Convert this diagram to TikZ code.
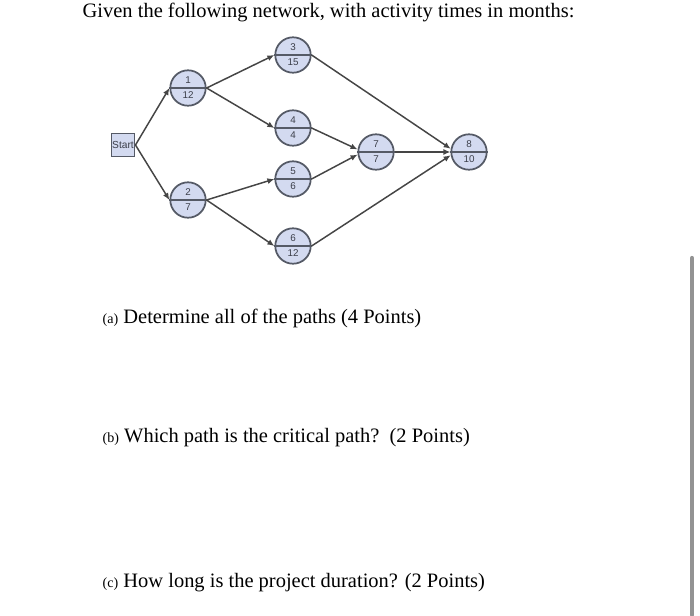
\documentclass[tikz,border=0pt]{standalone}
\usepackage{fontspec}
\setmainfont{Liberation Serif}
\newfontfamily\nodefont{Liberation Sans}
\usetikzlibrary{arrows.meta}

\definecolor{actfill}{HTML}{D3DAF0}
\definecolor{actline}{HTML}{555A66}
\definecolor{acttext}{HTML}{3C3F4A}
\definecolor{edgeline}{HTML}{454545}

\begin{document}
\begin{tikzpicture}[x=0.01cm,y=-0.01cm]

\tikzset{activity/.style = {shape=circle,draw=actline,fill=actfill,line width=0.5pt,minimum size=0.354cm,inner sep=0pt}}
\tikzset{startbox/.style = {shape=rectangle,draw=actline,fill=actfill,line width=0.55pt,minimum size=0.23cm,inner sep=0pt,font=\nodefont\fontsize{2.9}{3.2}\selectfont,text=acttext}}
\tikzset{num/.style = {inner sep=0pt,font=\nodefont\fontsize{2.8}{3.2}\selectfont,text=acttext}}
\tikzset{edge/.style = {-{Latex[length=2pt,width=1.7pt]},draw=edgeline,line width=0.42pt}}
\tikzset{question/.style = {anchor=base west,inner sep=0pt,font=\fontsize{5.82}{7}\selectfont}}
\newcommand{\qtag}[1]{{\fontsize{4}{4.8}\selectfont(#1)}}

\useasboundingbox (0,0) rectangle (700,615);

% texts
\node[question] (title) at (82,18) {Given the following network, with activity times in months:};
\node[question] (qa) at (102,323) {\qtag{a} Determine all of the paths (4 Points)};
\node[question] (qb) at (102,442) {\qtag{b} Which path is the critical path?\ \ (2 Points)};
\node[question] (qc) at (102,587) {\qtag{c} How long is the project duration? (2 Points)};

% vertices
\node[startbox] (start) at (123,145) {Start};
\foreach \id/\x/\y/\t in {1/188/88/12, 2/188/200/7, 3/293/55/15, 4/293/128/4,
                          5/293/179/6, 6/293/246/12, 7/376/152/7, 8/469/152/10}
{
  \node[activity] (n\id) at (\x,\y) {};
  \draw[actline,line width=0.5pt] (n\id.west) -- (n\id.east);
  \node[num] (top\id) at (\x,\y-7.5) {\id};
  \node[num] (dur\id) at (\x,\y+7.5) {\t};
}

%edges
\draw[edge] (start.east) to (n1.west);
\draw[edge] (start.east) to (n2.west);
\draw[edge] (n1.east) to (n3.west);
\draw[edge] (n1.east) to (n4.west);
\draw[edge] (n2.east) to (n5.west);
\draw[edge] (n2.east) to (n6.west);
\draw[edge] (n4.east) to (n7.172);
\draw[edge] (n5.east) to (n7.188);
\draw[edge] (n3.east) to (n8.170);
\draw[edge] (n7.east) to (n8.west);
\draw[edge] (n6.east) to (n8.190);

% scroll bar
\draw[gray!85,line width=1.2pt,line cap=round] (692,258) -- (692,615);
\end{tikzpicture}
\end{document}
